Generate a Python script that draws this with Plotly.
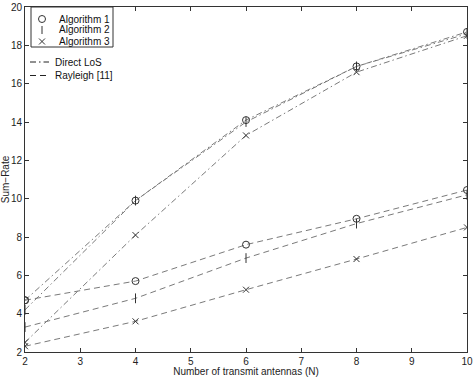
import plotly.graph_objects as go

# ---- data ----
N = [2, 4, 6, 8, 10]
los_alg1 = [4.7, 9.9, 14.1, 16.9, 18.7]
los_alg2 = [4.2, 9.9, 14.0, 16.9, 18.6]
los_alg3 = [2.5, 8.1, 13.3, 16.6, 18.5]
ray_alg1 = [4.7, 5.7, 7.6, 8.95, 10.45]
ray_alg2 = [3.3, 4.8, 6.9, 8.7, 10.2]
ray_alg3 = [2.3, 3.6, 5.25, 6.85, 8.5]

alg_names = ["Algorithm 1", "Algorithm 2", "Algorithm 3"]
chan_names = ["Direct LoS", "Rayleigh [11]"]
x_ticks = [2, 3, 4, 5, 6, 7, 8, 9, 10]
y_ticks = [2, 4, 6, 8, 10, 12, 14, 16, 18, 20]

FONT = "Liberation Sans, Arial, sans-serif"
LINE_COL = "#7a7a7a"
MARK_COL = "#333333"
DASH_LOS = "6px,3px,1.5px,3px"
DASH_RAY = "6px,4px"

symbols = ["circle-open", "line-ns-open", "x-thin-open"]
msizes = [7, 7, 6]

fig = go.Figure()
series = [(los_alg1, 0, DASH_LOS), (los_alg2, 1, DASH_LOS), (los_alg3, 2, DASH_LOS),
          (ray_alg1, 0, DASH_RAY), (ray_alg2, 1, DASH_RAY), (ray_alg3, 2, DASH_RAY)]
for vals, a, dash in series:
    fig.add_trace(go.Scatter(
        x=N, y=vals, mode="lines+markers", showlegend=False,
        line=dict(color=LINE_COL, width=1, dash=dash),
        marker=dict(symbol=symbols[a], size=msizes[a], color=MARK_COL,
                    line=dict(width=1, color=MARK_COL)),
    ))

# plot area geometry in pixels
W, H = 474, 377
L, R, T, B = 25, 7, 7, 25
PW, PH = W - L - R, H - T - B
OFF = T - 3  # legend rows measured relative to a top at y=3


def px(xp):
    return (xp - L) / PW


def py(yp):
    return (H - B - yp) / PH


shapes = []
annotations = []

# legend 1 box (markers)
shapes.append(dict(type="rect", xref="paper", yref="paper",
                   x0=px(31), x1=px(113), y0=py(43 + OFF), y1=py(T),
                   line=dict(color="#333", width=1), fillcolor="white", layer="above"))
rows = [15, 26, 37.5]
mx = 42
for i, yy in enumerate(rows):
    cy = py(yy + OFF)
    cx = px(mx)
    if i == 0:
        shapes.append(dict(type="circle", xref="paper", yref="paper",
                           xsizemode="pixel", ysizemode="pixel", xanchor=cx, yanchor=cy,
                           x0=-3.5, x1=3.5, y0=-3.5, y1=3.5,
                           line=dict(color=MARK_COL, width=1), layer="above"))
    elif i == 1:
        shapes.append(dict(type="line", xref="paper", yref="paper",
                           xsizemode="pixel", ysizemode="pixel", xanchor=cx, yanchor=cy,
                           x0=0, x1=0, y0=-4, y1=4,
                           line=dict(color=MARK_COL, width=1), layer="above"))
    else:
        for s in (1, -1):
            shapes.append(dict(type="line", xref="paper", yref="paper",
                               xsizemode="pixel", ysizemode="pixel", xanchor=cx, yanchor=cy,
                               x0=-3, x1=3, y0=-3 * s, y1=3 * s,
                               line=dict(color=MARK_COL, width=1), layer="above"))
    annotations.append(dict(xref="paper", yref="paper", x=px(57), y=cy,
                            xanchor="left", yanchor="middle", showarrow=False,
                            text=alg_names[i], font=dict(family=FONT, size=10, color="#111")))

# legend 2 (line styles, no box)
for i, (yy, dash) in enumerate([(58, DASH_LOS), (71.5, DASH_RAY)]):
    cy = py(yy + OFF)
    shapes.append(dict(type="line", xref="paper", yref="paper",
                       x0=px(30), x1=px(49), y0=cy, y1=cy,
                       line=dict(color="#222", width=1, dash=dash), layer="above"))
    annotations.append(dict(xref="paper", yref="paper", x=px(53), y=cy,
                            xanchor="left", yanchor="middle", showarrow=False,
                            text=chan_names[i], font=dict(family=FONT, size=10, color="#111")))

axis_common = dict(showline=True, linecolor="#333", linewidth=1, mirror="ticks",
                   ticks="inside", ticklen=4, tickcolor="#333", showgrid=False,
                   zeroline=False, automargin=False, ticklabeloverflow="allow",
                   tickfont=dict(family=FONT, size=10, color="#222"))

fig.update_layout(
    width=W, height=H,
    margin=dict(l=L, r=R, t=T, b=B, pad=0),
    paper_bgcolor="white", plot_bgcolor="white",
    font=dict(family=FONT, size=10, color="#222"),
    xaxis=dict(range=[2, 10], tickvals=x_ticks, ticktext=[str(v) for v in x_ticks],
               title=dict(text="Number of transmit antennas (N)", standoff=0,
                          font=dict(family=FONT, size=10, color="#222")),
               **axis_common),
    yaxis=dict(range=[2, 20], tickvals=y_ticks, ticktext=[str(v) for v in y_ticks],
               title=dict(text="Sum−Rate", standoff=2,
                          font=dict(family=FONT, size=10, color="#222")),
               **axis_common),
    shapes=shapes,
    annotations=annotations,
    showlegend=False,
)

fig.write_html("out.html", config={"displayModeBar": False},
               post_script="document.body.style.margin='0';document.body.style.overflow='hidden';")
